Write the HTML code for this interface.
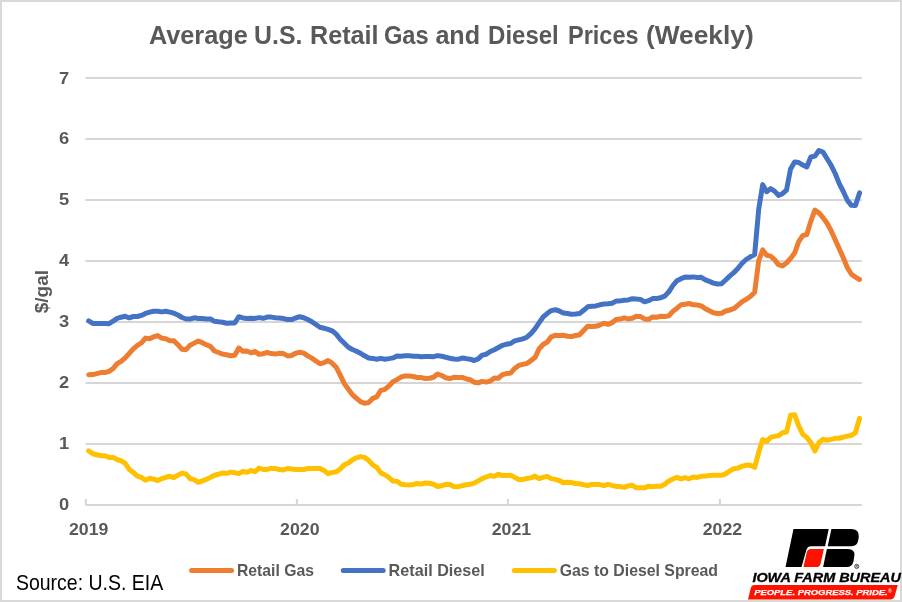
<!DOCTYPE html>
<html lang="en"><head><meta charset="utf-8"><title>Average U.S. Retail Gas and Diesel Prices (Weekly)</title>
<style>
html,body{margin:0;padding:0;background:#fff;}
body{width:902px;height:602px;overflow:hidden;}
svg{display:block;}
text{font-family:"Liberation Sans",sans-serif;}
.b{font-weight:bold;fill:#595959;}
</style></head><body>
<svg width="902" height="602" viewBox="0 0 902 602">
<rect x="0" y="0" width="902" height="602" fill="#fff"/>
<rect x="1" y="1" width="900" height="600" fill="none" stroke="#D9D9D9" stroke-width="2"/>
<text class="b" y="43.6" font-size="25.1"><tspan x="148.9" textLength="98.9" lengthAdjust="spacingAndGlyphs">Average</tspan> <tspan x="254.1" textLength="48.3" lengthAdjust="spacingAndGlyphs">U.S.</tspan> <tspan x="310.0" textLength="68.6" lengthAdjust="spacingAndGlyphs">Retail</tspan> <tspan x="383.9" textLength="44.7" lengthAdjust="spacingAndGlyphs">Gas</tspan> <tspan x="435.4" textLength="44.7" lengthAdjust="spacingAndGlyphs">and</tspan> <tspan x="488.1" textLength="70.7" lengthAdjust="spacingAndGlyphs">Diesel</tspan> <tspan x="568.0" textLength="70.5" lengthAdjust="spacingAndGlyphs">Prices</tspan> <tspan x="645.9" textLength="107.9" lengthAdjust="spacingAndGlyphs">(Weekly)</tspan></text>
<g stroke="#D6D6D6" stroke-width="2" fill="none">
<line x1="85.5" y1="505.0" x2="861.8" y2="505.0"/>
<line x1="85.5" y1="444.0" x2="861.8" y2="444.0"/>
<line x1="85.5" y1="383.0" x2="861.8" y2="383.0"/>
<line x1="85.5" y1="322.0" x2="861.8" y2="322.0"/>
<line x1="85.5" y1="261.0" x2="861.8" y2="261.0"/>
<line x1="85.5" y1="200.0" x2="861.8" y2="200.0"/>
<line x1="85.5" y1="139.0" x2="861.8" y2="139.0"/>
<line x1="85.5" y1="78.0" x2="861.8" y2="78.0"/>
<line x1="85.8" y1="499" x2="85.8" y2="505.0"/>
<line x1="296.9" y1="499" x2="296.9" y2="505.0"/>
<line x1="507.9" y1="499" x2="507.9" y2="505.0"/>
<line x1="719.9" y1="499" x2="719.9" y2="505.0"/>
</g>
<g class="b" font-size="17" text-anchor="middle">
<text x="64.1" y="509.9" textLength="10.2" lengthAdjust="spacingAndGlyphs">0</text>
<text x="64.1" y="448.9" textLength="10.2" lengthAdjust="spacingAndGlyphs">1</text>
<text x="64.1" y="387.9" textLength="10.2" lengthAdjust="spacingAndGlyphs">2</text>
<text x="64.1" y="326.9" textLength="10.2" lengthAdjust="spacingAndGlyphs">3</text>
<text x="64.1" y="265.9" textLength="10.2" lengthAdjust="spacingAndGlyphs">4</text>
<text x="64.1" y="204.9" textLength="10.2" lengthAdjust="spacingAndGlyphs">5</text>
<text x="64.1" y="143.9" textLength="10.2" lengthAdjust="spacingAndGlyphs">6</text>
<text x="64.1" y="83.9" textLength="10.2" lengthAdjust="spacingAndGlyphs">7</text>
<text x="88.7" y="534.9" textLength="39.4" lengthAdjust="spacingAndGlyphs">2019</text>
<text x="299.8" y="534.9" textLength="39.4" lengthAdjust="spacingAndGlyphs">2020</text>
<text x="511.4" y="534.9" textLength="39.4" lengthAdjust="spacingAndGlyphs">2021</text>
<text x="722.4" y="534.9" textLength="39.4" lengthAdjust="spacingAndGlyphs">2022</text>
</g>
<text class="b" font-size="19" text-anchor="middle" transform="translate(47.9,291.6) rotate(-90)" textLength="43.5" lengthAdjust="spacingAndGlyphs">$/gal</text>
<g fill="none" stroke-width="5" stroke-linecap="round" stroke-linejoin="round">
<path stroke="#ED7D31" d="M88.70,374.7 L92.76,374.6 L96.81,373.6 L100.87,372.6 L104.93,372.6 L108.99,371.3 L113.04,368.7 L117.10,363.7 L121.16,361.3 L125.21,357.9 L129.27,353.3 L133.33,348.9 L137.38,345.3 L141.44,342.9 L145.50,338.1 L149.56,338.7 L153.61,336.9 L157.67,335.6 L161.73,338.1 L165.78,338.8 L169.84,340.7 L173.90,340.7 L177.95,344.7 L182.01,349.3 L186.07,349.7 L190.12,345.2 L194.18,343.1 L198.24,341.1 L202.30,342.7 L206.35,344.7 L210.41,346.4 L214.47,351.0 L218.52,352.5 L222.58,354.1 L226.64,354.8 L230.69,355.8 L234.75,355.3 L238.81,348.0 L242.87,351.3 L246.92,351.0 L250.98,352.8 L255.04,351.5 L259.09,354.4 L263.15,353.7 L267.21,352.5 L271.27,353.6 L275.32,354.1 L279.38,353.3 L283.44,353.6 L287.49,355.9 L291.55,355.5 L295.61,353.3 L299.66,352.2 L303.72,353.1 L307.78,355.9 L311.84,358.1 L315.89,361.0 L319.95,363.8 L324.01,362.6 L328.06,360.5 L332.12,363.2 L336.18,367.2 L340.23,375.2 L344.29,383.6 L348.35,389.3 L352.41,394.7 L356.46,398.3 L360.52,401.6 L364.58,403.3 L368.63,402.6 L372.69,398.4 L376.75,396.8 L380.80,390.4 L384.86,389.4 L388.92,386.0 L392.98,381.7 L397.03,379.6 L401.09,377.0 L405.15,375.9 L409.20,375.9 L413.26,376.5 L417.32,377.5 L421.37,377.6 L425.43,378.5 L429.49,378.2 L433.55,377.3 L437.60,374.0 L441.66,375.5 L445.72,377.8 L449.77,378.6 L453.83,377.3 L457.89,377.4 L461.94,377.4 L466.00,378.7 L470.06,379.7 L474.12,382.2 L478.17,382.9 L482.23,381.4 L486.29,382.1 L490.34,381.0 L494.40,378.1 L498.46,378.2 L502.51,374.6 L506.57,373.6 L510.63,373.1 L514.69,368.4 L518.74,365.4 L522.80,364.4 L526.86,363.5 L530.91,360.6 L534.97,357.6 L539.03,349.0 L543.08,344.5 L547.14,342.1 L551.20,336.9 L555.26,335.3 L559.31,335.4 L563.37,335.3 L567.43,336.2 L571.48,336.6 L575.54,335.5 L579.60,334.7 L583.65,330.5 L587.71,326.3 L591.77,326.5 L595.83,326.3 L599.88,325.0 L603.94,323.3 L608.00,324.3 L612.05,322.7 L616.11,319.6 L620.17,319.1 L624.22,317.8 L628.28,318.9 L632.34,318.3 L636.40,316.3 L640.45,316.6 L644.51,318.9 L648.57,319.3 L652.62,316.9 L656.68,317.3 L660.74,316.3 L664.79,316.6 L668.85,315.8 L672.91,311.4 L676.97,308.2 L681.02,304.8 L685.08,304.3 L689.14,303.5 L693.19,304.8 L697.25,305.0 L701.31,305.9 L705.36,308.7 L709.42,310.8 L713.48,312.7 L717.54,313.5 L721.59,313.3 L725.65,311.0 L729.71,310.0 L733.76,308.7 L737.82,305.4 L741.88,301.9 L746.13,299.3 L750.39,296.5 L754.65,292.2 L758.71,260.7 L762.71,249.9 L766.67,255.2 L770.58,256.1 L774.53,259.6 L778.49,264.6 L782.45,265.9 L786.50,263.0 L790.56,258.5 L794.62,253.1 L798.68,241.6 L802.73,235.7 L806.79,234.5 L810.85,221.1 L814.90,210.1 L818.96,212.8 L823.02,217.7 L827.07,223.3 L831.13,230.7 L835.19,239.7 L839.25,248.8 L843.30,257.8 L847.36,267.7 L851.42,274.2 L855.47,277.1 L859.53,279.5"/>
<path stroke="#4472C4" d="M88.70,320.9 L92.76,323.4 L96.81,323.4 L100.87,323.4 L104.93,323.4 L108.99,323.7 L113.04,321.2 L117.10,318.4 L121.16,317.2 L125.21,316.3 L129.27,317.8 L133.33,316.5 L137.38,316.5 L141.44,315.4 L145.50,313.4 L149.56,312.1 L153.61,311.2 L157.67,311.2 L161.73,311.9 L165.78,311.3 L169.84,312.1 L173.90,313.2 L177.95,315.0 L182.01,317.5 L186.07,319.0 L190.12,319.1 L194.18,317.8 L198.24,318.5 L202.30,318.6 L206.35,319.1 L210.41,318.9 L214.47,321.3 L218.52,321.8 L222.58,322.2 L226.64,323.2 L230.69,323.0 L234.75,323.0 L238.81,316.7 L242.87,317.9 L246.92,318.4 L250.98,318.3 L255.04,318.4 L259.09,317.6 L263.15,318.3 L267.21,317.1 L271.27,317.1 L275.32,317.7 L279.38,318.1 L283.44,318.6 L287.49,319.5 L291.55,319.6 L295.61,318.0 L299.66,316.7 L303.72,317.7 L307.78,319.5 L311.84,321.7 L315.89,324.5 L319.95,327.3 L324.01,328.2 L328.06,329.3 L332.12,330.8 L336.18,334.1 L340.23,339.3 L344.29,343.3 L348.35,347.3 L352.41,349.5 L356.46,351.2 L360.52,353.3 L364.58,355.8 L368.63,358.0 L372.69,358.4 L376.75,359.3 L380.80,358.4 L384.86,359.2 L388.92,358.6 L392.98,357.9 L397.03,356.0 L401.09,356.3 L405.15,355.8 L409.20,355.8 L413.26,356.2 L417.32,356.2 L421.37,356.8 L425.43,356.6 L429.49,356.5 L433.55,356.7 L437.60,355.6 L441.66,356.3 L445.72,357.3 L449.77,358.2 L453.83,359.0 L457.89,359.3 L461.94,358.1 L466.00,358.6 L470.06,359.2 L474.12,360.5 L478.17,358.9 L482.23,355.1 L486.29,354.2 L490.34,351.5 L494.40,349.7 L498.46,347.5 L502.51,345.3 L506.57,344.2 L510.63,343.5 L514.69,340.9 L518.74,339.9 L522.80,338.9 L526.86,337.2 L530.91,333.6 L534.97,328.8 L539.03,322.8 L543.08,317.0 L547.14,313.6 L551.20,310.6 L555.26,309.7 L559.31,311.0 L563.37,313.1 L567.43,313.5 L571.48,314.2 L575.54,314.1 L579.60,313.6 L583.65,310.3 L587.71,306.8 L591.77,306.2 L595.83,305.9 L599.88,304.8 L603.94,304.0 L608.00,303.8 L612.05,303.2 L616.11,301.1 L620.17,300.9 L624.22,300.2 L628.28,299.9 L632.34,298.7 L636.40,299.1 L640.45,299.4 L644.51,301.8 L648.57,300.7 L652.62,298.6 L656.68,298.5 L660.74,297.7 L664.79,296.1 L668.85,291.8 L672.91,285.5 L676.97,280.7 L681.02,278.7 L685.08,277.1 L689.14,277.3 L693.19,276.9 L697.25,277.5 L701.31,277.3 L705.36,279.8 L709.42,281.4 L713.48,283.1 L717.54,284.0 L721.59,283.7 L725.65,280.0 L729.71,276.1 L733.76,272.7 L737.82,268.5 L741.88,263.5 L746.13,259.5 L750.39,256.8 L754.65,254.6 L758.71,209.1 L762.71,184.6 L766.67,191.7 L770.58,188.6 L774.53,191.1 L778.49,195.4 L782.45,193.7 L786.50,190.1 L790.56,168.9 L794.62,161.9 L798.68,162.5 L802.73,165.1 L806.79,167.0 L810.85,157.0 L814.90,156.1 L818.96,150.5 L823.02,152.1 L827.07,158.7 L831.13,165.3 L835.19,173.5 L839.25,183.6 L843.30,191.5 L847.36,200.3 L851.42,205.3 L855.47,205.5 L859.53,192.9"/>
<path stroke="#FFC000" d="M88.70,451.0 L92.76,453.7 L96.81,454.7 L100.87,455.7 L104.93,455.7 L108.99,457.4 L113.04,457.4 L117.10,459.5 L121.16,460.8 L125.21,463.4 L129.27,469.4 L133.33,472.4 L137.38,476.2 L141.44,477.4 L145.50,480.2 L149.56,478.3 L153.61,479.2 L157.67,480.5 L161.73,478.7 L165.78,477.3 L169.84,476.3 L173.90,477.5 L177.95,475.2 L182.01,473.1 L186.07,474.2 L190.12,478.7 L194.18,479.6 L198.24,482.3 L202.30,480.8 L206.35,479.3 L210.41,477.4 L214.47,475.2 L218.52,474.2 L222.58,473.1 L226.64,473.3 L230.69,472.1 L234.75,472.7 L238.81,473.6 L242.87,471.5 L246.92,472.3 L250.98,470.5 L255.04,471.7 L259.09,468.1 L263.15,469.5 L267.21,469.4 L271.27,468.4 L275.32,468.5 L279.38,469.6 L283.44,469.9 L287.49,468.5 L291.55,469.0 L295.61,469.6 L299.66,469.4 L303.72,469.5 L307.78,468.5 L311.84,468.5 L315.89,468.5 L319.95,468.5 L324.01,470.5 L328.06,473.6 L332.12,472.5 L336.18,471.9 L340.23,469.0 L344.29,464.7 L348.35,463.0 L352.41,459.7 L356.46,457.8 L360.52,456.6 L364.58,457.4 L368.63,460.3 L372.69,464.9 L376.75,467.3 L380.80,472.9 L384.86,474.7 L388.92,477.5 L392.98,481.1 L397.03,481.3 L401.09,484.2 L405.15,484.8 L409.20,484.9 L413.26,484.5 L417.32,483.5 L421.37,484.1 L425.43,482.9 L429.49,483.3 L433.55,484.3 L437.60,486.5 L441.66,485.7 L445.72,484.5 L449.77,484.6 L453.83,486.6 L457.89,486.8 L461.94,485.7 L466.00,484.8 L470.06,484.3 L474.12,483.2 L478.17,480.9 L482.23,478.6 L486.29,477.0 L490.34,475.5 L494.40,476.4 L498.46,474.3 L502.51,475.5 L506.57,475.6 L510.63,475.3 L514.69,477.4 L518.74,479.4 L522.80,479.4 L526.86,478.5 L530.91,477.9 L534.97,476.1 L539.03,478.6 L543.08,477.4 L547.14,476.4 L551.20,478.6 L555.26,479.4 L559.31,480.5 L563.37,482.7 L567.43,482.2 L571.48,482.6 L575.54,483.5 L579.60,483.8 L583.65,484.7 L587.71,485.5 L591.77,484.5 L595.83,484.6 L599.88,484.6 L603.94,485.6 L608.00,484.3 L612.05,485.4 L616.11,486.4 L620.17,486.6 L624.22,487.4 L628.28,485.9 L632.34,485.3 L636.40,487.8 L640.45,487.7 L644.51,487.8 L648.57,486.2 L652.62,486.7 L656.68,486.2 L660.74,486.3 L664.79,484.2 L668.85,480.9 L672.91,479.0 L676.97,477.3 L681.02,478.9 L685.08,477.7 L689.14,478.8 L693.19,477.0 L697.25,477.4 L701.31,476.3 L705.36,476.0 L709.42,475.6 L713.48,475.2 L717.54,475.3 L721.59,475.3 L725.65,473.9 L729.71,471.0 L733.76,468.8 L737.82,468.1 L741.88,466.4 L746.13,465.1 L750.39,465.2 L754.65,467.3 L758.71,452.3 L762.71,439.6 L766.67,441.4 L770.58,437.4 L774.53,436.4 L778.49,435.7 L782.45,432.7 L786.50,432.0 L790.56,415.3 L794.62,414.7 L798.68,425.8 L802.73,434.2 L806.79,437.4 L810.85,442.6 L814.90,450.9 L818.96,442.6 L823.02,439.3 L827.07,440.3 L831.13,439.4 L835.19,438.3 L839.25,438.2 L843.30,437.2 L847.36,436.1 L851.42,435.4 L855.47,432.7 L859.53,418.3"/>
<line stroke="#ED7D31" x1="191.6" y1="570.5" x2="231.6" y2="570.5"/>
<line stroke="#4472C4" x1="343.3" y1="570.5" x2="383.2" y2="570.5"/>
<line stroke="#FFC000" x1="514.3" y1="570.5" x2="554.4" y2="570.5"/>
</g>
<g class="b" font-size="17">
<text x="236.9" y="575.8" textLength="77" lengthAdjust="spacingAndGlyphs">Retail Gas</text>
<text x="388.6" y="575.8" textLength="96.2" lengthAdjust="spacingAndGlyphs">Retail Diesel</text>
<text x="559.7" y="575.8" textLength="158.3" lengthAdjust="spacingAndGlyphs">Gas to Diesel Spread</text>
</g>
<text x="15.9" y="589.9" font-size="21.2" fill="#000" textLength="147.4" lengthAdjust="spacingAndGlyphs">Source: U.S. EIA</text>
<g id="logo">
<path fill="#000" d="M793.5,529 L828.7,529 L825.1,546.25 L811.2,546.25 Q807.2,546.25 806.2,550.6 L801.5,567.1 L785.5,567.1 Z"/>
<path fill="#FF1200" d="M811,549.05 L823.9,549.05 L820.7,563.2 Q819.8,567.1 816.2,567.1 L803.5,567.1 L806.6,552.9 Q807.5,549.05 811,549.05 Z"/>
<path fill="#000" d="M831.4,529 L851,529 Q859.4,529 858.8,536.8 L858.3,540 Q857.2,546.25 851.5,546.25 L827.7,546.25 Z"/>
<path fill="#000" d="M826.9,549.05 L848,549.05 Q854.9,549.05 854.4,555.6 L853.5,561 Q852.4,567.1 846.6,567.1 L823.1,567.1 Z"/>
<circle cx="856.7" cy="566.4" r="2.1" fill="none" stroke="#333" stroke-width="0.8"/>
<text x="856.7" y="567.7" font-size="3.4" font-weight="bold" text-anchor="middle" fill="#333">R</text>
<text x="752.4" y="581.5" font-size="12" font-weight="bold" font-style="italic" fill="#000" stroke="#000" stroke-width="0.3" textLength="148.5" lengthAdjust="spacingAndGlyphs">IOWA FARM BUREAU</text>
<path fill="#FF1200" d="M754.5,585 L897.8,585 L894.6,596.3 Q893.7,599.4 890.4,599.4 L748,599.4 L750.8,588 Q751.6,585 754.5,585 Z"/>
<text x="754.2" y="594.8" font-size="7.6" font-weight="bold" font-style="italic" fill="#fff" stroke="#fff" stroke-width="0.25" textLength="133.5" lengthAdjust="spacingAndGlyphs">PEOPLE. PROGRESS. PRIDE.</text>
<text x="887.9" y="593" font-size="5" font-weight="bold" fill="#fff">®</text>
</g>
</svg>
</body></html>
